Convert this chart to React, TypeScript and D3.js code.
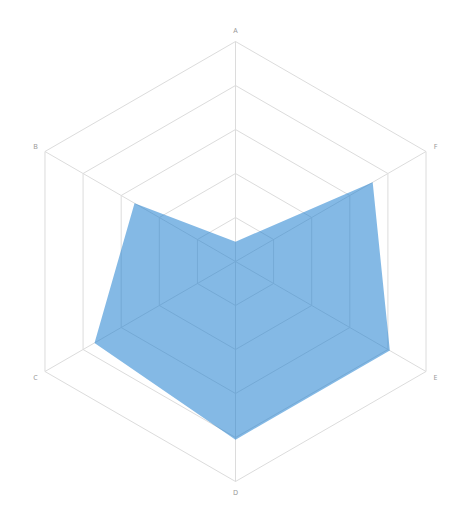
import React, { useEffect, useRef } from 'react';
import * as d3 from 'd3';

const axes = ['A', 'B', 'C', 'D', 'E', 'F'];
const values = [9, 53, 74, 81, 81, 72];
const levels = [20, 40, 60, 80, 100];

const App: React.FC = () => {
  const svgRef = useRef<SVGSVGElement>(null);

  useEffect(() => {
    if (!svgRef.current) return;
    const width = 474;
    const height = 516;
    const cx = 235.5;
    const cy = 261.5;
    const svg = d3.select(svgRef.current);
    svg.selectAll('*').remove();

    const rScale = d3.scaleLinear().domain([0, 100]).range([0, 220]);
    // A on top, the rest going counter-clockwise
    const angle = d3.scaleLinear().domain([0, axes.length]).range([0, -2 * Math.PI]);

    const g = svg.append('g').attr('transform', `translate(${cx},${cy})`);

    const radial = d3.lineRadial<number>()
      .angle((_, i) => angle(i))
      .radius(d => rScale(d))
      .curve(d3.curveLinearClosed);

    // Grid rings
    levels.forEach(lv => {
      g.append('path')
        .attr('d', radial(axes.map(() => lv)))
        .attr('fill', 'none')
        .attr('stroke', '#dcdcdc')
        .attr('stroke-width', 1);
    });

    // Spokes
    axes.forEach((_, i) => {
      const a = angle(i);
      g.append('line')
        .attr('x1', 0).attr('y1', 0)
        .attr('x2', rScale(100) * Math.sin(a))
        .attr('y2', -rScale(100) * Math.cos(a))
        .attr('stroke', '#dcdcdc')
        .attr('stroke-width', 1);
    });

    // Series area
    g.append('path')
      .attr('d', radial(values))
      .attr('fill', '#1f7fcf')
      .attr('fill-opacity', 0.55)
      .attr('stroke', 'none');

    // Axis labels
    axes.forEach((name, i) => {
      const a = angle(i);
      const r = rScale(100) + 11;
      g.append('text')
        .attr('x', r * Math.sin(a))
        .attr('y', -r * Math.cos(a))
        .attr('text-anchor', 'middle')
        .attr('dominant-baseline', 'central')
        .attr('font-family', 'Noto Sans, sans-serif')
        .attr('font-size', 7)
        .attr('fill', '#9a9a9a')
        .text(name);
    });

    svg.attr('width', width).attr('height', height);
  }, []);

  return (
    <div style={{ position: 'fixed', top: 0, left: 0, background: '#fff' }}>
      <svg ref={svgRef} width={474} height={516} style={{ display: 'block' }} />
    </div>
  );
};

export default App;
